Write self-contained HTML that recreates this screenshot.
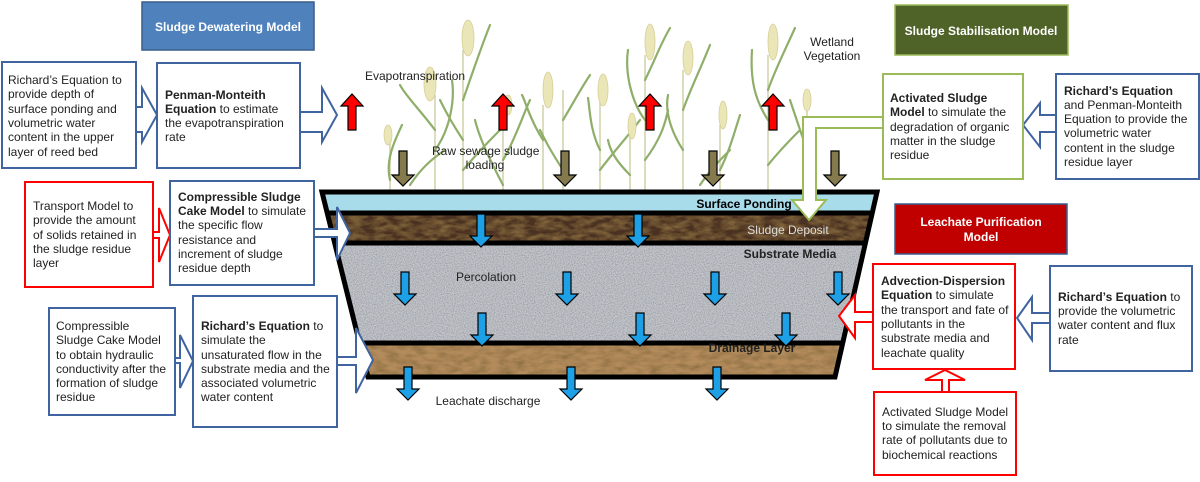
<!DOCTYPE html>
<html><head><meta charset="utf-8"><style>
body{margin:0;background:#fff;}
svg text{font-family:"Liberation Sans",Arial,sans-serif;}
</style></head><body>
<svg width="1200" height="477" viewBox="0 0 1200 477" xmlns="http://www.w3.org/2000/svg">
<defs>
<filter id="speck" x="0" y="0" width="100%" height="100%">
<feTurbulence type="fractalNoise" baseFrequency="0.9" numOctaves="2" seed="3"/>
<feColorMatrix type="matrix" values="0 0 0 0 0.3  0 0 0 0 0.31  0 0 0 0 0.33  0 0 0 -2.2 1.4"/>
<feComposite in2="SourceGraphic" operator="in"/>
<feBlend in2="SourceGraphic" mode="normal"/>
</filter>
<filter id="rough" x="0" y="0" width="100%" height="100%">
<feTurbulence type="fractalNoise" baseFrequency="0.08 0.2" numOctaves="3" seed="5"/>
<feColorMatrix type="matrix" values="0 0 0 0 0.25  0 0 0 0 0.15  0 0 0 0 0.05  0 0 0 -1.6 1.1"/>
<feComposite in2="SourceGraphic" operator="in"/>
<feBlend in2="SourceGraphic" mode="normal"/>
</filter>
<clipPath id="trough"><polygon points="322,192 877,192 835,377 368,377"/></clipPath>
</defs>

<!-- plants: stems -->
<g stroke="#d3d3ae" stroke-width="1.6" fill="none">
<path d="M390,190 V140"/><path d="M435,190 V95"/><path d="M463,190 V50"/><path d="M503,190 V100"/>
<path d="M543,190 V105"/><path d="M563,190 V90"/><path d="M600,190 V100"/><path d="M630,190 V135"/>
<path d="M645,190 V55"/><path d="M683,190 V70"/><path d="M720,190 V125"/><path d="M768,190 V55"/><path d="M807,190 V108"/>
</g>
<!-- leaves -->
<g stroke="#8fae6a" stroke-width="2.2" fill="none" stroke-linecap="round">
<path d="M390,180 C385,160 395,140 402,125"/><path d="M435,130 C420,110 405,95 400,85"/><path d="M435,150 C450,130 455,100 452,80"/>
<path d="M463,100 C470,80 480,50 490,25"/><path d="M463,140 C450,120 445,110 440,100"/><path d="M463,170 C480,150 490,140 500,130"/>
<path d="M503,160 C515,140 525,110 530,100"/><path d="M503,185 C490,160 480,140 475,120"/>
<path d="M543,140 C530,120 525,100 522,95"/><path d="M563,120 C575,100 580,90 590,75"/><path d="M563,170 C550,150 545,140 540,130"/>
<path d="M600,150 C590,130 590,110 588,98"/><path d="M600,170 C615,150 625,140 640,120"/><path d="M630,175 C615,160 610,150 608,140"/>
<path d="M645,80 C655,60 660,45 670,28"/><path d="M645,120 C630,100 625,70 628,50"/><path d="M645,160 C660,140 665,125 668,110"/>
<path d="M683,110 C690,90 700,70 710,45"/><path d="M683,150 C670,130 665,110 668,95"/><path d="M720,170 C730,150 735,130 740,115"/>
<path d="M768,90 C775,70 785,50 795,28"/><path d="M768,120 C755,100 750,80 752,50"/><path d="M768,165 C780,150 790,140 800,130"/>
<path d="M807,150 C800,130 795,115 790,100"/><path d="M700,185 C710,170 720,160 730,150"/><path d="M410,185 C420,170 430,160 445,150"/>
</g>
<!-- plumes -->
<g fill="#ebe6b8" stroke="#d6cf95" stroke-width="0.8">
<ellipse cx="388" cy="135" rx="4" ry="10"/><ellipse cx="430" cy="84" rx="6" ry="17"/><ellipse cx="468" cy="38" rx="6" ry="18"/>
<ellipse cx="508" cy="105" rx="4" ry="10"/><ellipse cx="548" cy="90" rx="5" ry="18"/><ellipse cx="603" cy="90" rx="5" ry="16"/>
<ellipse cx="632" cy="126" rx="4" ry="13"/><ellipse cx="650" cy="42" rx="5" ry="18"/><ellipse cx="688" cy="58" rx="5" ry="17"/>
<ellipse cx="723" cy="115" rx="4" ry="14"/><ellipse cx="773" cy="42" rx="5" ry="18"/><ellipse cx="807" cy="100" rx="4" ry="11"/>
</g>

<!-- layers -->
<g clip-path="url(#trough)">
<rect x="300" y="192" width="600" height="21" fill="#a9dcea"/>
<rect x="300" y="213" width="600" height="30" fill="#4a3020" filter="url(#rough)"/>
<rect x="300" y="243" width="600" height="100" fill="#c3c6cc" filter="url(#speck)"/>
<rect x="300" y="343" width="600" height="35" fill="#b48c5c" filter="url(#rough)"/>
</g>
<g stroke="#000" stroke-width="5" fill="none">
<polygon points="322,192 877,192 835,377 368,377"/>
<line x1="326" y1="213" x2="873" y2="213"/><line x1="333" y1="243" x2="866" y2="243"/><line x1="356" y1="343" x2="843" y2="343"/>
</g>
<text x="744" y="208" font-size="12" font-weight="bold" text-anchor="middle">Surface Ponding</text>
<text x="788" y="234" font-size="12" fill="#ddd" text-anchor="middle">Sludge Deposit</text>
<text x="790" y="258" font-size="12" font-weight="bold" fill="#222" text-anchor="middle">Substrate Media</text>
<text x="486" y="281" font-size="12" fill="#222" text-anchor="middle">Percolation</text>
<text x="752" y="352" font-size="12" font-weight="bold" fill="#222" text-anchor="middle">Drainage Layer</text>
<text x="488" y="405" font-size="12" fill="#222" text-anchor="middle">Leachate discharge</text>
<text x="432" y="155" font-size="12" fill="#222">Raw sewage sludge</text>
<text x="485" y="169" font-size="12" fill="#222" text-anchor="middle">loading</text>
<text x="365" y="80" font-size="12" fill="#222">Evapotranspiration</text>
<text x="832" y="46" font-size="12" fill="#222" text-anchor="middle">Wetland</text>
<text x="832" y="60" font-size="12" fill="#222" text-anchor="middle">Vegetation</text>

<!-- blue arrows -->
<g fill="#1ea0e6" stroke="#000" stroke-width="1.2">
<path d="M-4,0 h8 v22 h7 l-11,11 l-11,-11 h7 z" transform="translate(481,214)"/>
<path d="M-4,0 h8 v22 h7 l-11,11 l-11,-11 h7 z" transform="translate(638,214)"/>
<path d="M-4,0 h8 v22 h7 l-11,11 l-11,-11 h7 z" transform="translate(405,272)"/>
<path d="M-4,0 h8 v22 h7 l-11,11 l-11,-11 h7 z" transform="translate(567,272)"/>
<path d="M-4,0 h8 v22 h7 l-11,11 l-11,-11 h7 z" transform="translate(715,272)"/>
<path d="M-4,0 h8 v22 h7 l-11,11 l-11,-11 h7 z" transform="translate(838,272)"/>
<path d="M-4,0 h8 v22 h7 l-11,11 l-11,-11 h7 z" transform="translate(482,313)"/>
<path d="M-4,0 h8 v22 h7 l-11,11 l-11,-11 h7 z" transform="translate(640,313)"/>
<path d="M-4,0 h8 v22 h7 l-11,11 l-11,-11 h7 z" transform="translate(786,313)"/>
<path d="M-4,0 h8 v22 h7 l-11,11 l-11,-11 h7 z" transform="translate(408,367)"/>
<path d="M-4,0 h8 v22 h7 l-11,11 l-11,-11 h7 z" transform="translate(571,367)"/>
<path d="M-4,0 h8 v22 h7 l-11,11 l-11,-11 h7 z" transform="translate(717,367)"/>
</g>
<!-- red up arrows -->
<g fill="#f00" stroke="#000" stroke-width="1.2">
<path d="M-4,0 h8 v-24 h7 l-11,-12 l-11,12 h7 z" transform="translate(352,130)"/>
<path d="M-4,0 h8 v-24 h7 l-11,-12 l-11,12 h7 z" transform="translate(503,130)"/>
<path d="M-4,0 h8 v-24 h7 l-11,-12 l-11,12 h7 z" transform="translate(650,130)"/>
<path d="M-4,0 h8 v-24 h7 l-11,-12 l-11,12 h7 z" transform="translate(773,130)"/>
</g>
<!-- olive down arrows -->
<g fill="#857a4e" stroke="#000" stroke-width="1.2">
<path d="M-4,0 h8 v24 h7 l-11,11 l-11,-11 h7 z" transform="translate(403,151)"/>
<path d="M-4,0 h8 v24 h7 l-11,11 l-11,-11 h7 z" transform="translate(565,151)"/>
<path d="M-4,0 h8 v24 h7 l-11,11 l-11,-11 h7 z" transform="translate(713,151)"/>
<path d="M-4,0 h8 v24 h7 l-11,11 l-11,-11 h7 z" transform="translate(835,151)"/>
</g>

<!-- green hollow arrow -->
<path d="M883,128 H816 V200 H826 L809,220 L792,200 H803 V117 H883" fill="#fff" stroke="#9bbb59" stroke-width="2"/>

<!-- hollow connector arrows -->
<g fill="#fff" stroke="#3f64a0" stroke-width="2">
<path d="M136,107 H142 V88 L157,115 L142,142 V132 H136"/>
<path d="M300,112 H322 V88 L337,115 L322,142 V132 H300"/>
<path d="M314,229 H337 V207 L350,233 L337,260 V237 H314"/>
<path d="M175,358 H180 V335 L193,361 L180,388 V363 H175"/>
<path d="M337,357 H356 V328 L373,360 L356,393 V365 H337"/>
<path d="M1056,115 H1040 V103 L1023,125 L1040,147 V132 H1056"/>
<path d="M1050,313 H1032 V297 L1017,318 L1032,340 V323 H1050"/>
</g>
<g fill="#fff" stroke="#f00" stroke-width="2">
<path d="M153,232 H159 V208 L170,235 L159,262 V238 H153"/>
<path d="M873,312 H855 V295 L839,316 L855,338 V322 H873"/>
<path d="M949,392 V380 H965 L945,370 L925,380 H942 V392"/>
</g>

<!-- header boxes -->
<rect x="142" y="2" width="172" height="48" fill="#4f81bd" stroke="#385d8a" stroke-width="1.5"/>
<text x="228" y="31" font-size="12" font-weight="bold" fill="#fff" text-anchor="middle">Sludge Dewatering Model</text>
<rect x="895" y="5" width="173" height="50" fill="#4f6228" stroke="#9bbb59" stroke-width="1.5"/>
<text x="981" y="35" font-size="12" font-weight="bold" fill="#fff" text-anchor="middle">Sludge Stabilisation Model</text>
<rect x="895" y="204" width="172" height="50" fill="#c00000" stroke="#385d8a" stroke-width="1.5"/>
<text x="981" y="226" font-size="12" font-weight="bold" fill="#fff" text-anchor="middle">Leachate Purification</text>
<text x="981" y="241" font-size="12" font-weight="bold" fill="#fff" text-anchor="middle">Model</text>

<!-- text boxes -->
<g fill="#fff" stroke-width="2">
<rect x="2" y="62" width="134" height="106" stroke="#3f64a0"/>
<rect x="157" y="63" width="143" height="105" stroke="#3f64a0"/>
<rect x="25" y="182" width="128" height="105" stroke="#f00"/>
<rect x="170" y="181" width="144" height="104" stroke="#3f64a0"/>
<rect x="49" y="308" width="126" height="107" stroke="#3f64a0"/>
<rect x="193" y="296" width="144" height="131" stroke="#3f64a0"/>
<rect x="883" y="74" width="140" height="105" stroke="#9bbb59"/>
<rect x="1056" y="74" width="143" height="105" stroke="#3f64a0"/>
<rect x="873" y="264" width="142" height="105" stroke="#f00"/>
<rect x="1050" y="266" width="142" height="105" stroke="#3f64a0"/>
<rect x="874" y="392" width="142" height="83" stroke="#f00"/>
</g>
<g font-size="12" fill="#222">
<text x="8" y="84">Richard’s Equation to</text><text x="8" y="98">provide depth of</text><text x="8" y="113">surface ponding and</text><text x="8" y="127">volumetric water</text><text x="8" y="141">content in the upper</text><text x="8" y="156">layer of reed bed</text>
<text x="165" y="99" font-weight="bold">Penman-Monteith</text><text x="165" y="113"><tspan font-weight="bold">Equation</tspan> to estimate</text><text x="165" y="127">the evapotranspiration</text><text x="165" y="141">rate</text>
<text x="33" y="210">Transport Model to</text><text x="33" y="224">provide the amount</text><text x="33" y="239">of solids retained in</text><text x="33" y="253">the sludge residue</text><text x="33" y="267">layer</text>
<text x="178" y="201" font-weight="bold">Compressible Sludge</text><text x="178" y="215"><tspan font-weight="bold">Cake Model</tspan> to simulate</text><text x="178" y="229">the specific flow</text><text x="178" y="244">resistance and</text><text x="178" y="258">increment of sludge</text><text x="178" y="272">residue depth</text>
<text x="56" y="330">Compressible</text><text x="56" y="344">Sludge Cake Model</text><text x="56" y="359">to obtain hydraulic</text><text x="56" y="373">conductivity after the</text><text x="56" y="387">formation of sludge</text><text x="56" y="401">residue</text>
<text x="201" y="330"><tspan font-weight="bold">Richard’s Equation</tspan> to</text><text x="201" y="344">simulate the</text><text x="201" y="359">unsaturated flow in the</text><text x="201" y="373">substrate media and the</text><text x="201" y="387">associated volumetric</text><text x="201" y="401">water content</text>
<text x="890" y="102" font-weight="bold">Activated Sludge</text><text x="890" y="116"><tspan font-weight="bold">Model</tspan> to simulate the</text><text x="890" y="131">degradation of organic</text><text x="890" y="145">matter in the sludge</text><text x="890" y="159">residue</text>
<text x="1064" y="95" font-weight="bold">Richard’s Equation</text><text x="1064" y="109">and Penman-Monteith</text><text x="1064" y="123">Equation to provide the</text><text x="1064" y="137">volumetric water</text><text x="1064" y="152">content in the sludge</text><text x="1064" y="166">residue layer</text>
<text x="881" y="285" font-weight="bold">Advection-Dispersion</text><text x="881" y="299"><tspan font-weight="bold">Equation</tspan> to simulate</text><text x="881" y="314">the transport and fate of</text><text x="881" y="328">pollutants in the</text><text x="881" y="342">substrate media and</text><text x="881" y="357">leachate quality</text>
<text x="1058" y="301"><tspan font-weight="bold">Richard’s Equation</tspan> to</text><text x="1058" y="315">provide the volumetric</text><text x="1058" y="329">water content and flux</text><text x="1058" y="344">rate</text>
<text x="882" y="416">Activated Sludge Model</text><text x="882" y="430">to simulate the removal</text><text x="882" y="444">rate of pollutants due to</text><text x="882" y="459">biochemical reactions</text>
</g>
</svg>
</body></html>
